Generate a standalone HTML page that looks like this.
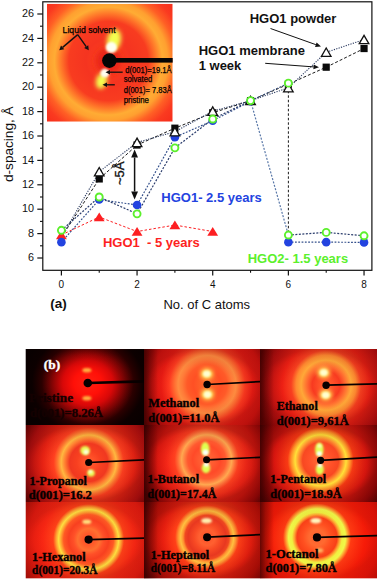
<!DOCTYPE html>
<html><head><meta charset="utf-8"><style>
html,body{margin:0;padding:0;background:#fff;}
svg{display:block;}
text{font-family:"Liberation Sans",sans-serif;}
.tk{font-size:10.8px;fill:#111;}
.tkx{font-size:10px;fill:#111;}
.lab{font-size:13.5px;font-weight:bold;fill:#111;}
.xl{font-size:13px;fill:#111;}
.yl{font-size:13.6px;fill:#111;}
.lb{font-size:13px;font-weight:bold;}
.lb5{font-size:13px;fill:#111;stroke:#111;stroke-width:0.35px;}
.it{font-size:9px;fill:#000;stroke:#000;stroke-width:0.25px;}
.gt{font-family:"Liberation Serif",serif;font-weight:bold;font-size:12.5px;stroke-width:0.4px;}
.serif{font-family:"Liberation Serif",serif;font-weight:bold;}
</style></head><body>
<svg width="379" height="581" viewBox="0 0 379 581"><defs><clipPath id="cinset"><rect x="46.9" y="3.7" width="125.80" height="118.00"/></clipPath>
<radialGradient id="ginset" gradientUnits="userSpaceOnUse" cx="108.5" cy="61.0" r="90">
<stop offset="0" stop-color="#ff5a20"/>
<stop offset="0.12" stop-color="#fb4020"/>
<stop offset="0.25" stop-color="#f53420"/>
<stop offset="0.44" stop-color="#f83c20"/>
<stop offset="0.53" stop-color="#ff7a2a"/>
<stop offset="0.60" stop-color="#ffac34"/>
<stop offset="0.66" stop-color="#ffa030"/>
<stop offset="0.75" stop-color="#ff6025"/>
<stop offset="0.85" stop-color="#fa3a20"/>
<stop offset="1" stop-color="#f52a1a"/>
</radialGradient>
<filter id="blur2" x="-50%" y="-50%" width="200%" height="200%"><feGaussianBlur stdDeviation="2"/></filter>
<filter id="blur3" x="-50%" y="-50%" width="200%" height="200%"><feGaussianBlur stdDeviation="3"/></filter>
<filter id="blur1" x="-50%" y="-50%" width="200%" height="200%"><feGaussianBlur stdDeviation="1"/></filter>
<linearGradient id="lband" x1="0" y1="0" x2="1" y2="0"><stop offset="0" stop-color="#300000" stop-opacity="0.7"/><stop offset="0.4" stop-color="#300000" stop-opacity="0.35"/><stop offset="1" stop-color="#300000" stop-opacity="0"/></linearGradient><radialGradient id="vig" cx="0.5" cy="0.5" r="0.5"><stop offset="0.55" stop-color="#300000" stop-opacity="0"/><stop offset="0.85" stop-color="#300000" stop-opacity="0.35"/><stop offset="1" stop-color="#200000" stop-opacity="0.8"/></radialGradient><clipPath id="cc1"><rect x="25.5" y="349.0" width="118.50" height="76.00"/></clipPath><radialGradient id="cg1" gradientUnits="userSpaceOnUse" cx="87.8" cy="383" r="66" gradientTransform="translate(87.8 383) scale(1 0.9) translate(-87.8 -383)"><stop offset="0.0" stop-color="#ff2010"/><stop offset="0.2121" stop-color="#ff1008"/><stop offset="0.3788" stop-color="#d80808"/><stop offset="0.5455" stop-color="#800404"/><stop offset="0.697" stop-color="#2a0000"/><stop offset="0.8485" stop-color="#050000"/><stop offset="1.0" stop-color="#000000"/></radialGradient><clipPath id="cc2"><rect x="144.0" y="349.0" width="116.00" height="76.00"/></clipPath><radialGradient id="cg2" gradientUnits="userSpaceOnUse" cx="207.1" cy="384.5" r="80"><stop offset="0.0" stop-color="#ff6a30"/><stop offset="0.075" stop-color="#ff6028"/><stop offset="0.175" stop-color="#ff5024"/><stop offset="0.25" stop-color="#ff5a28"/><stop offset="0.3125" stop-color="#ff7a38"/><stop offset="0.3625" stop-color="#ff8c40"/><stop offset="0.4125" stop-color="#ff6a30"/><stop offset="0.475" stop-color="#ff3a20"/><stop offset="0.575" stop-color="#f01c14"/><stop offset="0.7" stop-color="#e01410"/><stop offset="0.825" stop-color="#a80808"/><stop offset="1.0" stop-color="#700404"/></radialGradient><clipPath id="cc3"><rect x="260.0" y="349.0" width="117.00" height="76.00"/></clipPath><radialGradient id="cg3" gradientUnits="userSpaceOnUse" cx="326.1" cy="385.2" r="72"><stop offset="0.0" stop-color="#ff6030"/><stop offset="0.0972" stop-color="#ff5028"/><stop offset="0.1944" stop-color="#f83a20"/><stop offset="0.2639" stop-color="#ff6a30"/><stop offset="0.3472" stop-color="#ffa838"/><stop offset="0.4167" stop-color="#ff8a30"/><stop offset="0.4861" stop-color="#f84020"/><stop offset="0.6111" stop-color="#f02014"/><stop offset="0.8056" stop-color="#c01010"/><stop offset="1.0" stop-color="#800404"/></radialGradient><clipPath id="cc4"><rect x="25.5" y="425.0" width="118.50" height="77.00"/></clipPath><radialGradient id="cg4" gradientUnits="userSpaceOnUse" cx="88.7" cy="462.5" r="72"><stop offset="0.0" stop-color="#ff6030"/><stop offset="0.0833" stop-color="#ff5028"/><stop offset="0.1667" stop-color="#f84020"/><stop offset="0.2639" stop-color="#f03820"/><stop offset="0.3264" stop-color="#ff7a30"/><stop offset="0.3819" stop-color="#ffb840"/><stop offset="0.4306" stop-color="#ff7a30"/><stop offset="0.4861" stop-color="#ff4020"/><stop offset="0.6389" stop-color="#f02414"/><stop offset="0.8333" stop-color="#c01010"/><stop offset="1.0" stop-color="#700404"/></radialGradient><clipPath id="cc5"><rect x="144.0" y="425.0" width="116.00" height="77.00"/></clipPath><radialGradient id="cg5" gradientUnits="userSpaceOnUse" cx="206.6" cy="459.8" r="70"><stop offset="0.0" stop-color="#ff6a38"/><stop offset="0.1143" stop-color="#ff5a30"/><stop offset="0.2" stop-color="#ff4a28"/><stop offset="0.2714" stop-color="#ff5a30"/><stop offset="0.3143" stop-color="#ff8040"/><stop offset="0.3571" stop-color="#ffa850"/><stop offset="0.4071" stop-color="#ff7038"/><stop offset="0.4571" stop-color="#ff4020"/><stop offset="0.5714" stop-color="#f82818"/><stop offset="0.7143" stop-color="#e81810"/><stop offset="0.8857" stop-color="#a80808"/><stop offset="1.0" stop-color="#600404"/></radialGradient><clipPath id="cc6"><rect x="260.0" y="425.0" width="117.00" height="77.00"/></clipPath><radialGradient id="cg6" gradientUnits="userSpaceOnUse" cx="320.6" cy="460.3" r="70"><stop offset="0.0" stop-color="#ff6030"/><stop offset="0.0857" stop-color="#ff6030"/><stop offset="0.1714" stop-color="#ff5028"/><stop offset="0.2571" stop-color="#f84822"/><stop offset="0.3071" stop-color="#ff8a30"/><stop offset="0.3643" stop-color="#ffe038"/><stop offset="0.4214" stop-color="#ff9028"/><stop offset="0.4714" stop-color="#f83a14"/><stop offset="0.6571" stop-color="#e81810"/><stop offset="0.8571" stop-color="#a80808"/><stop offset="1.0" stop-color="#600404"/></radialGradient><clipPath id="cc7"><rect x="25.5" y="502.0" width="118.50" height="76.60"/></clipPath><radialGradient id="cg7" gradientUnits="userSpaceOnUse" cx="88.6" cy="539.6" r="74"><stop offset="0.0" stop-color="#ff5028"/><stop offset="0.0811" stop-color="#ff5a2a"/><stop offset="0.1486" stop-color="#ff7030"/><stop offset="0.2027" stop-color="#ff5028"/><stop offset="0.2703" stop-color="#f84020"/><stop offset="0.3378" stop-color="#ff5a24"/><stop offset="0.3716" stop-color="#ffa030"/><stop offset="0.4054" stop-color="#ffe040"/><stop offset="0.4392" stop-color="#ffa030"/><stop offset="0.4797" stop-color="#ff4018"/><stop offset="0.6216" stop-color="#ff2814"/><stop offset="0.8108" stop-color="#f01c10"/><stop offset="1.0" stop-color="#b01008"/></radialGradient><clipPath id="cc8"><rect x="144.0" y="502.0" width="116.00" height="76.60"/></clipPath><radialGradient id="cg8" gradientUnits="userSpaceOnUse" cx="207.1" cy="537.2" r="72"><stop offset="0.0" stop-color="#ff5028"/><stop offset="0.1111" stop-color="#ff6030"/><stop offset="0.1806" stop-color="#f84a24"/><stop offset="0.2639" stop-color="#e83820"/><stop offset="0.3056" stop-color="#f04820"/><stop offset="0.3333" stop-color="#ff9030"/><stop offset="0.3681" stop-color="#ffc040"/><stop offset="0.4028" stop-color="#ff9030"/><stop offset="0.4444" stop-color="#ff4018"/><stop offset="0.6111" stop-color="#f02010"/><stop offset="0.8056" stop-color="#c81008"/><stop offset="1.0" stop-color="#700404"/></radialGradient><clipPath id="cc9"><rect x="260.0" y="502.0" width="117.00" height="76.60"/></clipPath><radialGradient id="cg9" gradientUnits="userSpaceOnUse" cx="317" cy="537.4" r="72"><stop offset="0.0" stop-color="#ff6030"/><stop offset="0.1111" stop-color="#ff6a30"/><stop offset="0.1944" stop-color="#ff5020"/><stop offset="0.2778" stop-color="#f84018"/><stop offset="0.3125" stop-color="#ffa030"/><stop offset="0.3472" stop-color="#f0f040"/><stop offset="0.3958" stop-color="#f0f848"/><stop offset="0.4306" stop-color="#ffa030"/><stop offset="0.4722" stop-color="#ff3a12"/><stop offset="0.6667" stop-color="#ff1c08"/><stop offset="0.8611" stop-color="#f01408"/><stop offset="1.0" stop-color="#d01008"/></radialGradient></defs>
<rect x="42.8" y="1.8" width="329.09999999999997" height="268.5" fill="none" stroke="#111" stroke-width="1.2"/>
<line x1="37.3" y1="258.00" x2="42.8" y2="258.00" stroke="#111" stroke-width="1.2"/>
<text x="34" y="261.20" text-anchor="end" class="tk">6</text>
<line x1="40" y1="245.80" x2="42.8" y2="245.80" stroke="#111" stroke-width="1.1"/>
<line x1="37.3" y1="233.60" x2="42.8" y2="233.60" stroke="#111" stroke-width="1.2"/>
<text x="34" y="236.80" text-anchor="end" class="tk">8</text>
<line x1="40" y1="221.40" x2="42.8" y2="221.40" stroke="#111" stroke-width="1.1"/>
<line x1="37.3" y1="209.20" x2="42.8" y2="209.20" stroke="#111" stroke-width="1.2"/>
<text x="34" y="212.40" text-anchor="end" class="tk">10</text>
<line x1="40" y1="197.00" x2="42.8" y2="197.00" stroke="#111" stroke-width="1.1"/>
<line x1="37.3" y1="184.80" x2="42.8" y2="184.80" stroke="#111" stroke-width="1.2"/>
<text x="34" y="188.00" text-anchor="end" class="tk">12</text>
<line x1="40" y1="172.60" x2="42.8" y2="172.60" stroke="#111" stroke-width="1.1"/>
<line x1="37.3" y1="160.40" x2="42.8" y2="160.40" stroke="#111" stroke-width="1.2"/>
<text x="34" y="163.60" text-anchor="end" class="tk">14</text>
<line x1="40" y1="148.20" x2="42.8" y2="148.20" stroke="#111" stroke-width="1.1"/>
<line x1="37.3" y1="136.00" x2="42.8" y2="136.00" stroke="#111" stroke-width="1.2"/>
<text x="34" y="139.20" text-anchor="end" class="tk">16</text>
<line x1="40" y1="123.80" x2="42.8" y2="123.80" stroke="#111" stroke-width="1.1"/>
<line x1="37.3" y1="111.60" x2="42.8" y2="111.60" stroke="#111" stroke-width="1.2"/>
<text x="34" y="114.80" text-anchor="end" class="tk">18</text>
<line x1="40" y1="99.40" x2="42.8" y2="99.40" stroke="#111" stroke-width="1.1"/>
<line x1="37.3" y1="87.20" x2="42.8" y2="87.20" stroke="#111" stroke-width="1.2"/>
<text x="34" y="90.40" text-anchor="end" class="tk">20</text>
<line x1="40" y1="75.00" x2="42.8" y2="75.00" stroke="#111" stroke-width="1.1"/>
<line x1="37.3" y1="62.80" x2="42.8" y2="62.80" stroke="#111" stroke-width="1.2"/>
<text x="34" y="66.00" text-anchor="end" class="tk">22</text>
<line x1="40" y1="50.60" x2="42.8" y2="50.60" stroke="#111" stroke-width="1.1"/>
<line x1="37.3" y1="38.40" x2="42.8" y2="38.40" stroke="#111" stroke-width="1.2"/>
<text x="34" y="41.60" text-anchor="end" class="tk">24</text>
<line x1="40" y1="26.20" x2="42.8" y2="26.20" stroke="#111" stroke-width="1.1"/>
<line x1="37.3" y1="14.00" x2="42.8" y2="14.00" stroke="#111" stroke-width="1.2"/>
<text x="34" y="17.20" text-anchor="end" class="tk">26</text>
<line x1="61.40" y1="270.3" x2="61.40" y2="275.4" stroke="#111" stroke-width="1.2"/>
<text x="61.40" y="287.8" text-anchor="middle" class="tkx">0</text>
<line x1="99.23" y1="270.3" x2="99.23" y2="272.8" stroke="#111" stroke-width="1.1"/>
<line x1="137.06" y1="270.3" x2="137.06" y2="275.4" stroke="#111" stroke-width="1.2"/>
<text x="137.06" y="287.8" text-anchor="middle" class="tkx">2</text>
<line x1="174.89" y1="270.3" x2="174.89" y2="272.8" stroke="#111" stroke-width="1.1"/>
<line x1="212.72" y1="270.3" x2="212.72" y2="275.4" stroke="#111" stroke-width="1.2"/>
<text x="212.72" y="287.8" text-anchor="middle" class="tkx">4</text>
<line x1="250.55" y1="270.3" x2="250.55" y2="272.8" stroke="#111" stroke-width="1.1"/>
<line x1="288.38" y1="270.3" x2="288.38" y2="275.4" stroke="#111" stroke-width="1.2"/>
<text x="288.38" y="287.8" text-anchor="middle" class="tkx">6</text>
<line x1="326.21" y1="270.3" x2="326.21" y2="272.8" stroke="#111" stroke-width="1.1"/>
<line x1="364.04" y1="270.3" x2="364.04" y2="275.4" stroke="#111" stroke-width="1.2"/>
<text x="364.04" y="287.8" text-anchor="middle" class="tkx">8</text>
<text x="50.3" y="307.5" class="lab">(a)</text>
<text x="163.4" y="309" class="xl">No. of C atoms</text>
<text transform="translate(13.2,182) rotate(-90)" class="yl">d-spacing, Å</text>
<polyline points="61.40,237.26 99.23,178.94 137.06,145.03 174.89,128.19 212.72,112.82 250.55,100.62 288.38,84.15 326.21,67.19 364.04,48.53" fill="none" stroke="#1a1a1a" stroke-width="1.0" stroke-dasharray="3 2"/>
<polyline points="61.40,237.26 99.23,171.75 137.06,142.47 174.89,131.73 212.72,111.23 250.55,100.62 288.38,87.81 326.21,52.31 364.04,39.62" fill="none" stroke="#2a3a60" stroke-width="1.1" stroke-dasharray="1.2 1.3"/>
<polyline points="61.40,242.14 99.23,199.56 137.06,205.05 174.89,137.22 212.72,120.75 250.55,101.23" fill="none" stroke="#34508c" stroke-width="1.2" stroke-dasharray="1.8 1.5"/>
<polyline points="288.38,242.14 326.21,242.14 364.04,242.38" fill="none" stroke="#34508c" stroke-width="1.2" stroke-dasharray="1.8 1.5"/>
<polyline points="61.40,230.31 99.23,197.00 137.06,213.84 174.89,147.83 212.72,119.04 250.55,100.62" fill="none" stroke="#2a3c6c" stroke-width="1.2" stroke-dasharray="2 1.5"/>
<polyline points="250.55,100.62 288.38,235.06" fill="none" stroke="#5a78a8" stroke-width="1.2" stroke-dasharray="2 1.5"/>
<polyline points="288.38,235.06 326.21,232.38 364.04,235.80" fill="none" stroke="#2a3c6c" stroke-width="1.2" stroke-dasharray="2 1.5"/>
<polyline points="61.40,234.94 99.23,217.01 137.06,231.53 174.89,225.06 212.72,231.53" fill="none" stroke="#fd1f22" stroke-width="1.0" stroke-dasharray="2.5 2"/>
<line x1="288.38" y1="90.81" x2="288.38" y2="234.45" stroke="#1a1a1a" stroke-width="1" stroke-dasharray="2.5 2"/>
<polyline points="250.55,100.62 288.38,83.17" fill="none" stroke="#2f4a80" stroke-width="1.0" stroke-dasharray="2 1.5"/>
<rect x="95.63" y="175.34" width="7.2" height="7.2" fill="#0a0a0a"/>
<rect x="133.46" y="141.43" width="7.2" height="7.2" fill="#0a0a0a"/>
<rect x="171.29" y="124.59" width="7.2" height="7.2" fill="#0a0a0a"/>
<rect x="209.12" y="109.22" width="7.2" height="7.2" fill="#0a0a0a"/>
<rect x="246.95" y="97.02" width="7.2" height="7.2" fill="#0a0a0a"/>
<rect x="284.78" y="80.55" width="7.2" height="7.2" fill="#0a0a0a"/>
<rect x="322.61" y="63.59" width="7.2" height="7.2" fill="#0a0a0a"/>
<rect x="360.44" y="44.93" width="7.2" height="7.2" fill="#0a0a0a"/>
<polygon points="61.40,230.34 66.80,239.14 56.00,239.14" fill="#fd1f22"/>
<polygon points="99.23,212.41 104.63,221.21 93.83,221.21" fill="#fd1f22"/>
<polygon points="137.06,226.93 142.46,235.73 131.66,235.73" fill="#fd1f22"/>
<polygon points="174.89,220.46 180.29,229.26 169.49,229.26" fill="#fd1f22"/>
<polygon points="212.72,226.93 218.12,235.73 207.32,235.73" fill="#fd1f22"/>
<circle cx="61.40" cy="242.14" r="4.3" fill="#2343e0"/>
<circle cx="99.23" cy="199.56" r="4.3" fill="#2343e0"/>
<circle cx="137.06" cy="205.05" r="4.3" fill="#2343e0"/>
<circle cx="174.89" cy="137.22" r="4.3" fill="#2343e0"/>
<circle cx="212.72" cy="120.75" r="4.3" fill="#2343e0"/>
<circle cx="250.55" cy="101.23" r="4.3" fill="#2343e0"/>
<circle cx="288.38" cy="242.14" r="4.3" fill="#2343e0"/>
<circle cx="326.21" cy="242.14" r="4.3" fill="#2343e0"/>
<circle cx="364.04" cy="242.38" r="4.3" fill="#2343e0"/>
<polygon points="99.23,167.45 104.03,175.85 94.43,175.85" fill="#fff" stroke="#111" stroke-width="1.3" stroke-linejoin="miter"/>
<polygon points="137.06,138.17 141.86,146.57 132.26,146.57" fill="#fff" stroke="#111" stroke-width="1.3" stroke-linejoin="miter"/>
<polygon points="174.89,127.43 179.69,135.83 170.09,135.83" fill="#fff" stroke="#111" stroke-width="1.3" stroke-linejoin="miter"/>
<polygon points="212.72,106.93 217.52,115.33 207.92,115.33" fill="#fff" stroke="#111" stroke-width="1.3" stroke-linejoin="miter"/>
<polygon points="250.55,96.32 255.35,104.72 245.75,104.72" fill="#fff" stroke="#111" stroke-width="1.3" stroke-linejoin="miter"/>
<polygon points="288.38,83.51 293.18,91.91 283.58,91.91" fill="#fff" stroke="#111" stroke-width="1.3" stroke-linejoin="miter"/>
<polygon points="326.21,48.01 331.01,56.41 321.41,56.41" fill="#fff" stroke="#111" stroke-width="1.3" stroke-linejoin="miter"/>
<polygon points="364.04,35.32 368.84,43.72 359.24,43.72" fill="#fff" stroke="#111" stroke-width="1.3" stroke-linejoin="miter"/>
<circle cx="61.40" cy="230.31" r="3.5" fill="#fff" stroke="#5cf02c" stroke-width="1.9"/>
<circle cx="99.23" cy="197.00" r="3.5" fill="#fff" stroke="#5cf02c" stroke-width="1.9"/>
<circle cx="137.06" cy="213.84" r="3.5" fill="#fff" stroke="#5cf02c" stroke-width="1.9"/>
<circle cx="174.89" cy="147.83" r="3.5" fill="#fff" stroke="#5cf02c" stroke-width="1.9"/>
<circle cx="212.72" cy="119.04" r="3.5" fill="#fff" stroke="#5cf02c" stroke-width="1.9"/>
<circle cx="250.55" cy="100.62" r="3.5" fill="#fff" stroke="#5cf02c" stroke-width="1.9"/>
<circle cx="288.38" cy="235.06" r="3.5" fill="#fff" stroke="#5cf02c" stroke-width="1.9"/>
<circle cx="326.21" cy="232.38" r="3.5" fill="#fff" stroke="#5cf02c" stroke-width="1.9"/>
<circle cx="364.04" cy="235.80" r="3.5" fill="#fff" stroke="#5cf02c" stroke-width="1.9"/>
<circle cx="288.38" cy="83.17" r="3.5" fill="#fff" stroke="#5cf02c" stroke-width="1.9"/>
<text x="249.7" y="23" class="lb" fill="#111">HGO1 powder</text>
<text x="198.7" y="55.4" class="lb" fill="#111">HGO1 membrane</text>
<text x="198.7" y="70.4" class="lb" fill="#111">1 week</text>
<text x="161.3" y="201.5" class="lb" fill="#2343e0">HGO1- 2.5 years</text>
<text x="102.9" y="246.5" class="lb" fill="#fd1f22" xml:space="preserve">HGO1  - 5 years</text>
<text x="247.7" y="263.4" class="lb" fill="#5cf02c">HGO2- 1.5 years</text>
<line x1="270.50" y1="28.50" x2="315.82" y2="44.65" stroke="#111" stroke-width="1.0"/>
<polygon points="321.00,46.50 315.01,46.91 316.63,42.39" fill="#111"/>
<line x1="265.20" y1="63.30" x2="313.52" y2="66.89" stroke="#111" stroke-width="1.0"/>
<polygon points="319.00,67.30 313.34,69.29 313.69,64.50" fill="#111"/>
<line x1="134.60" y1="175.00" x2="134.60" y2="157.50" stroke="#111" stroke-width="1.5"/>
<polygon points="134.60,149.50 138.00,157.50 131.20,157.50" fill="#111"/>
<line x1="134.60" y1="175.00" x2="134.60" y2="191.50" stroke="#111" stroke-width="1.5"/>
<polygon points="134.60,199.50 131.20,191.50 138.00,191.50" fill="#111"/>
<text transform="translate(123.5,185) rotate(-90)" class="lb5">~5Å</text>
<g clip-path="url(#cinset)">
<rect x="46.9" y="3.7" width="125.80" height="118.00" fill="url(#ginset)"/>
<circle cx="108.5" cy="61.0" r="13" fill="#e82418" filter="url(#blur3)"/>
<ellipse cx="114" cy="40" rx="7" ry="11" fill="#f4ff50" filter="url(#blur2)" transform="rotate(12 114 40)"/>
<circle cx="111.4" cy="47.4" r="5.6" fill="#fffff0" filter="url(#blur1)"/>
<ellipse cx="101.5" cy="81" rx="5.5" ry="8" fill="#f4ff50" filter="url(#blur2)" transform="rotate(15 101.5 81)"/>
<circle cx="104.8" cy="73.2" r="4.4" fill="#fffff0" filter="url(#blur1)"/>
<circle cx="109.4" cy="60.6" r="7.3" fill="#050505"/>
<rect x="109.4" y="58" width="70" height="4.6" fill="#050505"/>
</g>
<text x="62.6" y="33.3" class="it" textLength="53" lengthAdjust="spacingAndGlyphs">Liquid solvent</text>
<text x="125.3" y="73" class="it" textLength="46.4" lengthAdjust="spacingAndGlyphs">d(001)=19.1Å</text>
<text x="123.7" y="82.4" class="it" textLength="28.5" lengthAdjust="spacingAndGlyphs">solvated</text>
<text x="123.7" y="93.2" class="it" textLength="48" lengthAdjust="spacingAndGlyphs">d(001)= 7.83Å</text>
<text x="123.7" y="102.9" class="it" textLength="25.3" lengthAdjust="spacingAndGlyphs">pristine</text>
<line x1="77.70" y1="34.60" x2="62.63" y2="47.39" stroke="#111" stroke-width="1.4"/>
<polygon points="59.20,50.30 61.01,45.48 64.25,49.29" fill="#111"/>
<line x1="77.70" y1="34.60" x2="86.20" y2="46.63" stroke="#111" stroke-width="1.4"/>
<polygon points="88.80,50.30 84.16,48.07 88.24,45.18" fill="#111"/>
<line x1="122.70" y1="72.20" x2="110.00" y2="72.20" stroke="#111" stroke-width="1.3"/>
<polygon points="105.50,72.20 110.00,69.90 110.00,74.50" fill="#111"/>
<line x1="114.80" y1="84.80" x2="107.00" y2="84.80" stroke="#111" stroke-width="1.3"/>
<polygon points="102.50,84.80 107.00,82.50 107.00,87.10" fill="#111"/>
<g clip-path="url(#cc1)">
<rect x="25.5" y="349.0" width="118.50" height="76.00" fill="url(#cg1)"/>
<rect x="25.5" y="349.0" width="118.50" height="76.00" fill="url(#vig)" opacity="0.33"/>
<ellipse cx="86.9" cy="370.3" rx="4.5" ry="2.2" fill="#ffb040" filter="url(#blur1)"/>
<ellipse cx="86.9" cy="398.3" rx="4.5" ry="2.2" fill="#ffb040" filter="url(#blur1)"/>
<line x1="87.8" y1="383" x2="146.0" y2="381.3" stroke="#080000" stroke-width="2.6"/>
<circle cx="87.8" cy="383" r="4.3" fill="#080000"/>
</g>
<g clip-path="url(#cc2)">
<rect x="144.0" y="349.0" width="116.00" height="76.00" fill="url(#cg2)"/>
<rect x="144.0" y="349.0" width="116.00" height="76.00" fill="url(#vig)" opacity="0.24"/>
<rect x="144.0" y="349.0" width="14" height="76.00" fill="url(#lband)"/>
<ellipse cx="206.8" cy="373.8" rx="6.5" ry="5.5" fill="#ffe050" filter="url(#blur2)"/>
<ellipse cx="206.8" cy="373.8" rx="4" ry="3.4" fill="#ffffd0" filter="url(#blur1)"/>
<ellipse cx="207.5" cy="394.5" rx="6.5" ry="5.5" fill="#ffe050" filter="url(#blur2)"/>
<ellipse cx="207.5" cy="394.5" rx="4" ry="3.4" fill="#ffffd0" filter="url(#blur1)"/>
<line x1="207.1" y1="384.5" x2="262.0" y2="381.5" stroke="#080000" stroke-width="1.7"/>
<circle cx="207.1" cy="384.5" r="3.7" fill="#080000"/>
</g>
<g clip-path="url(#cc3)">
<rect x="260.0" y="349.0" width="117.00" height="76.00" fill="url(#cg3)"/>
<rect x="260.0" y="349.0" width="117.00" height="76.00" fill="url(#vig)" opacity="0.21"/>
<rect x="260.0" y="349.0" width="14" height="76.00" fill="url(#lband)"/>
<ellipse cx="323.8" cy="372.6" rx="6.5" ry="5.5" fill="#ffe050" filter="url(#blur2)"/>
<ellipse cx="323.8" cy="372.6" rx="4" ry="3.4" fill="#ffffd0" filter="url(#blur1)"/>
<ellipse cx="325.7" cy="395.1" rx="6.5" ry="5.5" fill="#ffe050" filter="url(#blur2)"/>
<ellipse cx="325.7" cy="395.1" rx="4" ry="3.4" fill="#ffffd0" filter="url(#blur1)"/>
<line x1="326.1" y1="385.2" x2="379.0" y2="383.8" stroke="#080000" stroke-width="1.7"/>
<circle cx="326.1" cy="385.2" r="3.7" fill="#080000"/>
</g>
<g clip-path="url(#cc4)">
<rect x="25.5" y="425.0" width="118.50" height="77.00" fill="url(#cg4)"/>
<rect x="25.5" y="425.0" width="118.50" height="77.00" fill="url(#vig)" opacity="0.27"/>
<ellipse cx="85.1" cy="450.5" rx="4.8" ry="4.5" fill="#e8f850" filter="url(#blur1)"/>
<ellipse cx="86" cy="452" rx="2.6" ry="2.4" fill="#ffffe0" filter="url(#blur1)"/>
<ellipse cx="91" cy="473.2" rx="3.8" ry="3.4" fill="#e8f850" filter="url(#blur1)"/>
<ellipse cx="90.5" cy="471.8" rx="2" ry="1.8" fill="#ffffe0" filter="url(#blur1)"/>
<line x1="88.7" y1="462.5" x2="146.0" y2="459.8" stroke="#080000" stroke-width="1.7"/>
<circle cx="88.7" cy="462.5" r="3.6" fill="#080000"/>
</g>
<g clip-path="url(#cc5)">
<rect x="144.0" y="425.0" width="116.00" height="77.00" fill="url(#cg5)"/>
<rect x="144.0" y="425.0" width="116.00" height="77.00" fill="url(#vig)" opacity="0.33"/>
<rect x="144.0" y="425.0" width="14" height="77.00" fill="url(#lband)"/>
<ellipse cx="205.2" cy="448.8" rx="4.3" ry="6.8" fill="#e0ff50" filter="url(#blur1)"/>
<ellipse cx="206" cy="468.2" rx="4.2" ry="5" fill="#e0ff50" filter="url(#blur1)"/>
<ellipse cx="205.5" cy="452.5" rx="3" ry="3" fill="#ffffff" filter="url(#blur1)"/>
<ellipse cx="206.3" cy="464.5" rx="2.6" ry="2.2" fill="#ffffff" filter="url(#blur1)"/>
<line x1="206.6" y1="459.8" x2="262.0" y2="457.2" stroke="#080000" stroke-width="1.7"/>
<circle cx="206.6" cy="459.8" r="3.5" fill="#080000"/>
</g>
<g clip-path="url(#cc6)">
<rect x="260.0" y="425.0" width="117.00" height="77.00" fill="url(#cg6)"/>
<rect x="260.0" y="425.0" width="117.00" height="77.00" fill="url(#vig)" opacity="0.33"/>
<rect x="260.0" y="425.0" width="14" height="77.00" fill="url(#lband)"/>
<ellipse cx="319.3" cy="449.5" rx="4.2" ry="7" fill="#e0ff50" filter="url(#blur1)"/>
<ellipse cx="319.8" cy="469.5" rx="4" ry="5.2" fill="#e0ff50" filter="url(#blur1)"/>
<ellipse cx="319.3" cy="453.5" rx="2.6" ry="2.6" fill="#ffffff" filter="url(#blur1)"/>
<ellipse cx="319.5" cy="446" rx="2.2" ry="2" fill="#ffffc0" filter="url(#blur1)"/>
<ellipse cx="319.8" cy="465.6" rx="2.4" ry="2" fill="#ffffff" filter="url(#blur1)"/>
<line x1="320.6" y1="460.3" x2="379.0" y2="457" stroke="#080000" stroke-width="1.7"/>
<circle cx="320.6" cy="460.3" r="3.6" fill="#080000"/>
</g>
<g clip-path="url(#cc7)">
<rect x="25.5" y="502.0" width="118.50" height="76.60" fill="url(#cg7)"/>
<rect x="25.5" y="502.0" width="118.50" height="76.60" fill="url(#vig)" opacity="0.18"/>
<ellipse cx="86.8" cy="521.8" rx="4.5" ry="2.3" fill="#ffe080" filter="url(#blur1)"/>
<line x1="88.6" y1="539.6" x2="146.0" y2="538" stroke="#080000" stroke-width="1.7"/>
<circle cx="88.6" cy="539.6" r="4.1" fill="#080000"/>
</g>
<g clip-path="url(#cc8)">
<rect x="144.0" y="502.0" width="116.00" height="76.60" fill="url(#cg8)"/>
<rect x="144.0" y="502.0" width="116.00" height="76.60" fill="url(#vig)" opacity="0.27"/>
<rect x="144.0" y="502.0" width="14" height="76.60" fill="url(#lband)"/>
<ellipse cx="206.5" cy="520.8" rx="5.5" ry="2.8" fill="#fff0b0" filter="url(#blur1)"/>
<line x1="207.1" y1="537.2" x2="262.0" y2="534.5" stroke="#080000" stroke-width="1.7"/>
<circle cx="207.1" cy="537.2" r="4" fill="#080000"/>
</g>
<g clip-path="url(#cc9)">
<rect x="260.0" y="502.0" width="117.00" height="76.60" fill="url(#cg9)"/>
<rect x="260.0" y="502.0" width="117.00" height="76.60" fill="url(#vig)" opacity="0.15"/>
<rect x="260.0" y="502.0" width="14" height="76.60" fill="url(#lband)"/>
<ellipse cx="315.8" cy="520.8" rx="5.5" ry="2.8" fill="#fff8c0" filter="url(#blur1)"/>
<ellipse cx="319.3" cy="550.5" rx="4" ry="2.2" fill="#ffb060" filter="url(#blur1)"/>
<line x1="317" y1="537.4" x2="379.0" y2="535.5" stroke="#080000" stroke-width="1.7"/>
<circle cx="317" cy="537.4" r="4.1" fill="#080000"/>
</g>
<text x="29" y="401.9" class="gt" fill="#140000" stroke="#140000" textLength="44" lengthAdjust="spacingAndGlyphs">Pristine</text>
<text x="30" y="416.6" class="gt" fill="#140000" stroke="#140000" textLength="73" lengthAdjust="spacingAndGlyphs">d(001)=8.26Å</text>
<text x="148.3" y="407.4" class="gt" fill="#060000" stroke="#060000" textLength="50.8" lengthAdjust="spacingAndGlyphs">Methanol</text>
<text x="148.3" y="421.7" class="gt" fill="#060000" stroke="#060000" textLength="71.2" lengthAdjust="spacingAndGlyphs">d(001)=11.0Å</text>
<text x="276.7" y="410.4" class="gt" fill="#060000" stroke="#060000" textLength="41.1" lengthAdjust="spacingAndGlyphs">Ethanol</text>
<text x="276.7" y="424.7" class="gt" fill="#060000" stroke="#060000" textLength="72" lengthAdjust="spacingAndGlyphs">d(001)=9,61Å</text>
<text x="29.6" y="484.6" class="gt" fill="#060000" stroke="#060000" textLength="57.3" lengthAdjust="spacingAndGlyphs">1-Propanol</text>
<text x="28.7" y="498.8" class="gt" fill="#060000" stroke="#060000" textLength="63.2" lengthAdjust="spacingAndGlyphs">d(001)=16.2</text>
<text x="147.6" y="483.1" class="gt" fill="#060000" stroke="#060000" textLength="51.5" lengthAdjust="spacingAndGlyphs">1-Butanol</text>
<text x="147.6" y="498" class="gt" fill="#060000" stroke="#060000" textLength="68.8" lengthAdjust="spacingAndGlyphs">d(001)=17.4Å</text>
<text x="270.3" y="483.1" class="gt" fill="#060000" stroke="#060000" textLength="55.8" lengthAdjust="spacingAndGlyphs">1-Pentanol</text>
<text x="270.3" y="498" class="gt" fill="#060000" stroke="#060000" textLength="71.3" lengthAdjust="spacingAndGlyphs">d(001)=18.9Å</text>
<text x="32.1" y="560.7" class="gt" fill="#060000" stroke="#060000" textLength="53.5" lengthAdjust="spacingAndGlyphs">1-Hexanol</text>
<text x="32.1" y="574" class="gt" fill="#060000" stroke="#060000" textLength="65.3" lengthAdjust="spacingAndGlyphs">d(001)=20.3Å</text>
<text x="150.7" y="559.1" class="gt" fill="#060000" stroke="#060000" textLength="58.6" lengthAdjust="spacingAndGlyphs">1-Heptanol</text>
<text x="150.7" y="572.1" class="gt" fill="#060000" stroke="#060000" textLength="64.6" lengthAdjust="spacingAndGlyphs">d(001)=8.11Å</text>
<text x="265.6" y="558.4" class="gt" fill="#060000" stroke="#060000" textLength="52.9" lengthAdjust="spacingAndGlyphs">1-Octanol</text>
<text x="265.6" y="571.7" class="gt" fill="#060000" stroke="#060000" textLength="71.2" lengthAdjust="spacingAndGlyphs">d(001)=7.80Å</text>
<text x="43.8" y="369.4" class="gt" fill="#fff" stroke="#fff" textLength="16.4" lengthAdjust="spacingAndGlyphs">(b)</text>
</svg>
</body></html>
